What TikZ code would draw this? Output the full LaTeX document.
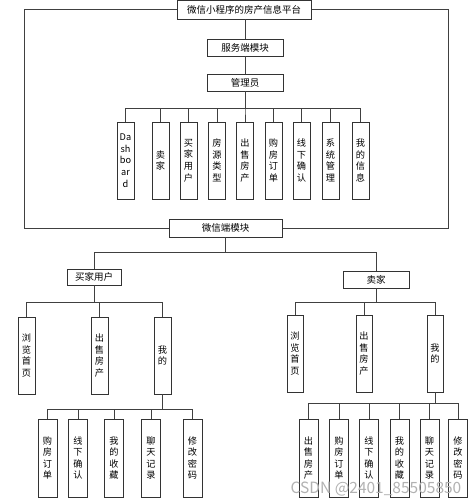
\documentclass[tikz,border=0pt]{standalone}
\usepackage{fontspec}
\setmainfont{Noto Sans CJK SC}
\begin{document}
\begin{tikzpicture}[x=1pt,y=-1pt,
  box/.style={draw=black!80,line width=0.7pt,fill=white,inner sep=0pt,font=\fontsize{9.5}{11}\selectfont},
  vbox/.style={draw=black!80,line width=0.7pt,fill=white,inner sep=0pt,align=center,font=\fontsize{9.2}{11.6}\selectfont},
  conn/.style={draw=black!75,line width=0.7pt}]
\useasboundingbox (0,0) rectangle (474,503);
% big frame
\draw[conn] (24,9) rectangle (448,228);
% top
\node[box,minimum width=134pt,minimum height=19pt] (top) at (244,9.5) {微信小程序的房产信息平台};
\node[box,minimum width=76pt,minimum height=17pt] (srv) at (245,47.5) {服务端模块};
\node[box,minimum width=76pt,minimum height=17pt] (adm) at (245,82.5) {管理员};
\draw[conn] (top.south -| srv.north) -- (srv.north);
\draw[conn] (srv.south) -- (adm.north);
% admin children
\coordinate (b1) at (0,108);
\foreach \n/\x/\t in {a1/125.5/{Da\\sh\\bo\\ar\\d},a2/160.5/{卖\\家},a3/188.5/{买\\家\\用\\户},a4/217/{房\\源\\类\\型},a5/245/{出\\售\\房\\产},a6/273.5/{购\\房\\订\\单},a7/301.5/{线\\下\\确\\认},a8/330.5/{系\\统\\管\\理},a9/360.5/{我\\的\\信\\息}}{
  \node[vbox,minimum width=17pt,minimum height=77pt] (\n) at (\x,160.5) {\t};
  \draw[conn] (adm.south) -- (adm.south |- b1) -| (\n.north);
}
% wechat module
\node[box,minimum width=113pt,minimum height=18pt] (wx) at (225.5,228) {微信端模块};
\node[box,minimum width=54pt,minimum height=16pt] (buy) at (94,277) {买家用户};
\node[box,minimum width=66pt,minimum height=17pt] (sel) at (376,279.5) {卖家};
\coordinate (b2) at (0,252);
\draw[conn] (wx.south) -- (wx.south |- b2) -| (buy.north);
\draw[conn] (wx.south) -- (wx.south |- b2) -| (sel.north);
% buyer children
\coordinate (b3) at (0,302);
\foreach \n/\x/\t in {u1/26.5/{浏\\览\\首\\页},u2/99.5/{出\\售\\房\\产},u3/162.5/{我\\的}}{
  \node[vbox,minimum width=17pt,minimum height=77pt] (\n) at (\x,355.5) {\t};
  \draw[conn] (buy.south) -- (buy.south |- b3) -| (\n.north);
}
% seller children
\foreach \n/\x/\t in {s1/295/{浏\\览\\首\\页},s2/364/{出\\售\\房\\产},s3/435/{我\\的}}{
  \node[vbox,minimum width=16pt,minimum height=77pt] (\n) at (\x,353.5) {\t};
  \draw[conn] (sel.south) -- (sel.south |- b3) -| (\n.north);
}
% buyer mine children
\coordinate (b4) at (0,409);
\foreach \n/\x/\t in {m1/47.5/{购\\房\\订\\单},m2/78/{线\\下\\确\\认},m3/114/{我\\的\\收\\藏},m4/151/{聊\\天\\记\\录},m5/192.5/{修\\改\\密\\码}}{
  \node[vbox,minimum width=19pt,minimum height=78pt] (\n) at (\x,458) {\t};
  \draw[conn] (u3.south) -- (u3.south |- b4) -| (\n.north);
}
% seller mine children
\coordinate (b5) at (0,403);
\foreach \n/\x/\t in {n1/308.5/{出\\售\\房\\产},n2/339/{购\\房\\订\\单},n3/369/{线\\下\\确\\认},n4/399.5/{我\\的\\收\\藏},n5/429.5/{聊\\天\\记\\录},n6/458/{修\\改\\密\\码}}{
  \node[vbox,minimum width=19pt,minimum height=78pt] (\n) at (\x,458) {\t};
  \draw[conn] (s3.south) -- (s3.south |- b5) -| (\n.north);
}
% watermark
\node[text=black!30,font=\fontsize{15.5}{15.5}\selectfont,inner sep=0pt] (wm) at (376,489) {CSDN @2401\_85505850};
\end{tikzpicture}
\end{document}
